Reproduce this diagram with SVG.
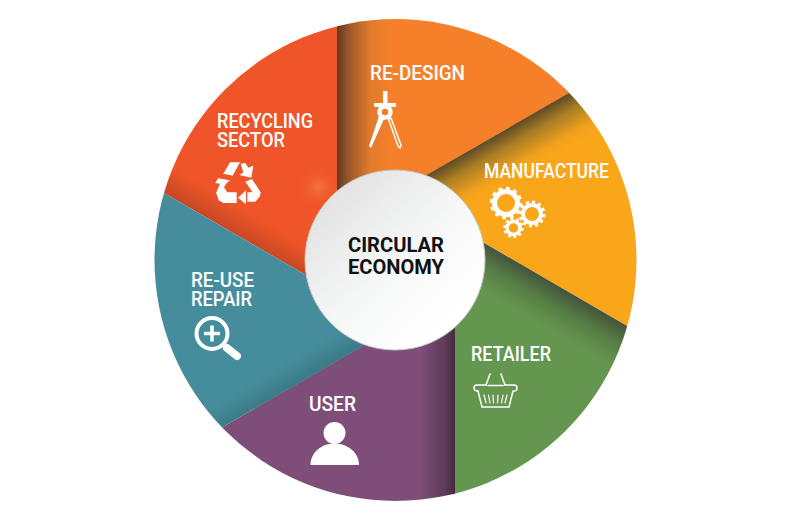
<svg xmlns="http://www.w3.org/2000/svg" width="800" height="524" viewBox="0 0 800 524">
<style>
.l{font-family:"Roboto","Liberation Sans",sans-serif;font-size:19.5px;font-weight:500;fill:#fff}
.c{font-family:"Roboto","Liberation Sans",sans-serif;font-size:21px;font-weight:700;fill:#111}
.w{fill:#fff}
.o{fill:none;stroke:#fff}
.r{stroke-linecap:round;stroke-linejoin:round}
</style>
<defs>
<clipPath id="disc"><circle cx="395.500" cy="260" r="241"/></clipPath>
<linearGradient id="gO" gradientUnits="userSpaceOnUse" x1="337" y1="0" x2="392" y2="0"><stop offset="0" stop-color="#5e3a20"/><stop offset=".2" stop-color="#96562a"/><stop offset=".6" stop-color="#e27a2b"/><stop offset="1" stop-color="#f58029"/></linearGradient>
<linearGradient id="gY" gradientUnits="userSpaceOnUse" x1="498" y1="134" x2="521" y2="174"><stop offset="0" stop-color="#5f4b26"/><stop offset=".35" stop-color="#ab7f24"/><stop offset=".8" stop-color="#f2a11c"/><stop offset="1" stop-color="#faa61a"/></linearGradient>
<linearGradient id="gG" gradientUnits="userSpaceOnUse" x1="555" y1="284" x2="534" y2="320"><stop offset="0" stop-color="#44533c"/><stop offset=".45" stop-color="#567c44"/><stop offset="1" stop-color="#659650"/></linearGradient>
<linearGradient id="gP" gradientUnits="userSpaceOnUse" x1="455" y1="0" x2="420" y2="0"><stop offset="0" stop-color="#432a40"/><stop offset=".3" stop-color="#5f3b5b"/><stop offset="1" stop-color="#7e4e78"/></linearGradient>
<linearGradient id="gT" gradientUnits="userSpaceOnUse" x1="293" y1="386" x2="281" y2="366"><stop offset="0" stop-color="#3c7a87"/><stop offset="1" stop-color="#458d9c"/></linearGradient>
<linearGradient id="gR" gradientUnits="userSpaceOnUse" x1="235" y1="234" x2="248" y2="212"><stop offset="0" stop-color="#c84824"/><stop offset="1" stop-color="#ef5528"/></linearGradient>
<linearGradient id="gC" gradientUnits="userSpaceOnUse" x1="330" y1="195" x2="450" y2="320"><stop offset="0" stop-color="#e3e3e3"/><stop offset=".55" stop-color="#f6f7f7"/><stop offset="1" stop-color="#fff"/></linearGradient>
<radialGradient id="glow"><stop offset="0" stop-color="#f6784a" stop-opacity=".8"/><stop offset="1" stop-color="#f15628" stop-opacity="0"/></radialGradient>
</defs>
<rect width="800" height="524" fill="#fff"/>
<g clip-path="url(#disc)">
<g id="recycling-slice"><polygon points="337,293 150,185 150,0 337,0" fill="url(#gR)"/><circle cx="318" cy="187" r="22" fill="url(#glow)"/></g>
<polygon id="redesign-slice" points="337,227 337,0 640,0 640,52" fill="url(#gO)"/>
<polygon id="manufacture-slice" points="397,192 640,52 640,333.5" fill="url(#gY)"/>
<polygon id="retailer-slice" points="455,226 640,333.5 640,524 455,524" fill="url(#gG)"/>
<polygon id="user-slice" points="455,292.5 455,524 150,524 150,469" fill="url(#gP)"/>
<polygon id="reuse-slice" points="396,327 150,469 150,185" fill="url(#gT)"/>
</g>
<g id="recycling">
<text class="l"><tspan x="217" y="128" textLength="96" lengthAdjust="spacingAndGlyphs">RECYCLING</tspan><tspan x="217" y="147" textLength="68" lengthAdjust="spacingAndGlyphs">SECTOR</tspan></text>
<g class="w" transform="translate(210 155) scale(.3333)">
<polygon points="40,56 60,22 90,22 68,62"/>
<polygon points="92,26 106,24 115,38 130,32 124,68 88,60 100,52"/>
<polygon points="126,72 152,112 150,124 136,140 112,140 112,112 128,112 106,80"/>
<polygon points="84,128 108,106 108,148"/>
<polygon points="18,112 36,88 52,112 80,112 80,144 40,144 26,136"/>
<polygon points="24,70 60,76 50,84 32,112 22,104 30,86 16,84"/>
</g>
</g>
<g id="redesign">
<text class="l" x="370" y="80" textLength="95" lengthAdjust="spacingAndGlyphs">RE-DESIGN</text>
<rect class="w" x="383" y="91" width="4.500" height="13"/>
<rect class="w" x="374" y="103" width="22" height="4" rx="1"/>
<circle class="o" cx="385" cy="112" r="5.500" stroke-width="4.500"/>
<polygon class="w" points="379,116 384,119 371,148 369,146"/>
<polygon class="o" stroke-width="1.500" stroke-linejoin="round" points="388.500,119 391,118 401,145 400,148 398,146"/>
</g>
<g id="manufacture">
<text class="l" x="484" y="178" textLength="125" lengthAdjust="spacingAndGlyphs">MANUFACTURE</text>
<circle class="o" cx="506" cy="203" r="11.500" stroke-width="5"/><circle class="o" cx="506" cy="203" r="14.500" stroke-width="3.500" pathLength="24" stroke-dasharray="1 1"/>
<circle class="o" cx="532" cy="214" r="9" stroke-width="4"/><circle class="o" cx="532" cy="214" r="12" stroke-width="3" pathLength="24" stroke-dasharray="1 1"/>
<circle class="o" cx="513.500" cy="228" r="6.500" stroke-width="3.500"/><circle class="o" cx="513.500" cy="228" r="9" stroke-width="2.500" pathLength="20" stroke-dasharray="1 1"/>
</g>
<g id="retailer">
<text class="l" x="471" y="361" textLength="80" lengthAdjust="spacingAndGlyphs">RETAILER</text>
<g class="o r" stroke-width="1.500">
<path d="M486,385 L490,374 M505,385 L501,374 M488,385.500 H503"/>
<path d="M486,385 H477 Q474,385 474,388 Q474,391 478,391 M505,385 H514 Q517,385 517,388 Q517,391 514,391"/>
<path d="M478,391 L482,407 H509 L513,391"/>
<path d="M484,395 L486,403 M488.500,395 L490,403 M493,395 L493.500,403 M498,395 L497.500,403 M503,395 L501.500,403 M507,395 L505,403" stroke-width="1.200"/>
</g>
</g>
<g id="user">
<text class="l" x="309" y="411" textLength="47" lengthAdjust="spacingAndGlyphs">USER</text>
<circle class="w" cx="334.500" cy="433" r="11"/>
<path class="w" d="M310.500,465 C310.500,452 322,443.500 334.500,443.500 C347,443.500 359,452 359,465 Z"/>
</g>
<g id="reuse">
<text class="l"><tspan x="191" y="287" textLength="63" lengthAdjust="spacingAndGlyphs">RE-USE</tspan><tspan x="191" y="306" textLength="61" lengthAdjust="spacingAndGlyphs">REPAIR</tspan></text>
<circle class="o" cx="212" cy="333.500" r="15.500" stroke-width="4"/>
<path class="o" stroke-width="3.500" d="M212,325.500 V341.500 M204,333.500 H220"/>
<path class="o r" stroke-width="8" d="M227,348 L237,356"/>
</g>
<g id="center">
<circle cx="395" cy="260" r="90" fill="url(#gC)" stroke="#c9c9c9" stroke-width="1"/>
<text class="c"><tspan x="348" y="252" textLength="96" lengthAdjust="spacingAndGlyphs">CIRCULAR</tspan><tspan x="348" y="274" textLength="96" lengthAdjust="spacingAndGlyphs">ECONOMY</tspan></text>
</g>
</svg>
